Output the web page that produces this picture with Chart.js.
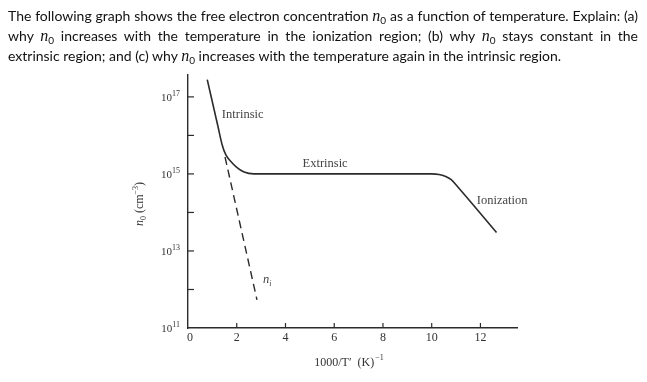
<!DOCTYPE html>
<html>
<head>
<meta charset="utf-8">
<script src="https://cdn.jsdelivr.net/npm/chart.js@4.4.1/dist/chart.umd.min.js"></script>
<style>
  html, body { margin: 0; padding: 0; background: #fff; }
  #wrap { position: relative; width: 647px; height: 382px; overflow: hidden; }
  #question {
    position: absolute; left: 8px; top: 6px; width: 630px;
    font-family: Lato, "Liberation Sans", sans-serif; font-size: 14px;
    line-height: 20px; color: #111;
  }
  #question .j { display: block; text-align: justify; text-align-last: justify; }
  #question .l { display: block; }
  #question i { font-family: "Liberation Serif", serif; font-size: 16px; }
  #question sub { font-size: 10px; vertical-align: -3px; line-height: 0; }
  #chart { position: absolute; left: 0; top: 0; }
</style>
</head>
<body>
<div id="wrap">
  <canvas id="chart" width="647" height="382"></canvas>
  <div id="question">
    <span class="j">The following graph shows the free electron concentration <i>n</i><sub>0</sub> as a function of temperature. Explain: (a)</span>
    <span class="j">why <i>n</i><sub>0</sub> increases with the temperature in the ionization region; (b) why <i>n</i><sub>0</sub> stays constant in the</span>
    <span class="l">extrinsic region; and (c) why <i>n</i><sub>0</sub> increases with the temperature again in the intrinsic region.</span>
  </div>
</div>
<script>
// 1000/T values and n0 (cm^-3)
const n0X = [0.79, 1.23, 1.40, 1.55, 1.75, 2.0, 2.3, 2.7, 5.0, 8.0, 10.0, 10.3, 10.55, 10.8, 11.1, 12.66];
const n0Y = [2.8e17, 1.7e16, 5.75e15, 3.16e15, 2.14e15, 1.48e15, 1.12e15, 1.0e15, 1.0e15, 1.0e15, 1.0e15, 9.66e14, 8.7e14, 7.1e14, 4.37e14, 3.0e13];

// intrinsic carrier concentration (dashed)
const niX = [1.52, 2.83];
const niY = [2.75e15, 5.4e11];

const xTicks = [0, 2, 4, 6, 8, 10, 12];
const yMajor = [11, 13, 15, 17];
const yMinor = [12, 14, 16];

const regionLabels = [
  { text: 'Intrinsic', x: 1.39, y: 2.8e16, italic: false },
  { text: 'Extrinsic', x: 4.7, y: 1.55e15, italic: false },
  { text: 'Ionization', x: 11.85, y: 1.7e14, italic: false },
  { text: 'n', sub: 'i', x: 3.08, y: 1.5e12, italic: true }
];

const ink = '#2b2b2b';
const serif = '"Liberation Serif", "DejaVu Serif", serif';

const axisDecor = {
  id: 'axisDecor',
  afterDraw(chart) {
    const ctx = chart.ctx;
    const xs = chart.scales.x;
    const ys = chart.scales.y;
    const area = chart.chartArea;
    ctx.save();
    ctx.strokeStyle = ink;
    ctx.lineWidth = 1.2;

    // inward ticks on x axis
    xTicks.forEach(v => {
      if (v === 0) return;
      const px = xs.getPixelForValue(v);
      ctx.beginPath();
      ctx.moveTo(px, area.bottom);
      ctx.lineTo(px, area.bottom - 5);
      ctx.stroke();
    });
    // inward ticks on y axis
    yMajor.concat(yMinor).forEach(p => {
      if (p === 11) return;
      const py = ys.getPixelForValue(Math.pow(10, p));
      ctx.beginPath();
      ctx.moveTo(area.left, py);
      ctx.lineTo(area.left + 6, py);
      ctx.stroke();
    });

    // x tick labels
    ctx.fillStyle = '#333';
    ctx.font = '12px ' + serif;
    ctx.textAlign = 'center';
    ctx.textBaseline = 'top';
    xTicks.forEach(v => {
      const px = xs.getPixelForValue(v);
      ctx.fillText(String(v), px + (v === 0 ? 2 : 0), area.bottom + 4);
    });

    // y tick labels: 10 with superscript exponent
    ctx.textBaseline = 'alphabetic';
    yMajor.forEach(p => {
      const py = ys.getPixelForValue(Math.pow(10, p));
      ctx.font = '8px ' + serif;
      const expW = ctx.measureText(String(p)).width;
      ctx.textAlign = 'right';
      ctx.fillText(String(p), area.left - 8, py - 1);
      ctx.font = '11px ' + serif;
      ctx.fillText('10', area.left - 8 - expW, py + 4);
    });

    // x axis title
    ctx.font = '12px ' + serif;
    ctx.textAlign = 'left';
    const xMain = '1000/T\u2032  (K)';
    const mainW = ctx.measureText(xMain).width;
    ctx.font = '8px ' + serif;
    const supW = ctx.measureText('\u22121').width;
    const xStart = 349 - (mainW + supW + 1) / 2;
    ctx.font = '12px ' + serif;
    ctx.fillText(xMain, xStart, area.bottom + 38);
    ctx.font = '8px ' + serif;
    ctx.fillText('\u22121', xStart + mainW + 1, area.bottom + 32);

    // y axis title (rotated)
    const parts = [
      { t: 'n', f: 'italic 12px ', dy: 0, gap: 0 },
      { t: '0', f: '8px ', dy: 3, gap: 3 },
      { t: '(cm', f: '12px ', dy: 0, gap: 0 },
      { t: '\u22123', f: '8px ', dy: -5, gap: 0 },
      { t: ')', f: '12px ', dy: 0, gap: 0 }
    ];
    let total = 0;
    parts.forEach(p => { ctx.font = p.f + serif; p.w = ctx.measureText(p.t).width; total += p.w + p.gap; });
    ctx.save();
    ctx.translate(area.left - 45, 204);
    ctx.rotate(-Math.PI / 2);
    let cx = -total / 2;
    parts.forEach(p => {
      ctx.font = p.f + serif;
      ctx.fillText(p.t, cx, p.dy);
      cx += p.w + p.gap;
    });
    ctx.restore();

    // region labels
    ctx.fillStyle = '#444';
    regionLabels.forEach(l => {
      const px = xs.getPixelForValue(l.x);
      const py = ys.getPixelForValue(l.y);
      ctx.textAlign = 'left';
      ctx.font = (l.italic ? 'italic ' : '') + '12.5px ' + serif;
      ctx.fillText(l.text, px, py);
      if (l.sub) {
        const w = ctx.measureText(l.text).width;
        ctx.font = 'italic 8px ' + serif;
        ctx.fillText(l.sub, px + w, py + 3);
      }
    });
    ctx.restore();
  }
};

function toPoints(xs, ys) {
  return xs.map((x, i) => ({ x: x, y: ys[i] }));
}

function createConcentrationChart() {
  const ctx = document.getElementById('chart').getContext('2d');

  const config = {
    type: 'line',
    data: {
      datasets: [
        {
          label: 'n0',
          data: toPoints(n0X, n0Y),
          borderColor: ink,
          borderWidth: 1.6,
          pointRadius: 0,
          cubicInterpolationMode: 'monotone',
          fill: false
        },
        {
          label: 'ni',
          data: toPoints(niX, niY),
          borderColor: ink,
          borderWidth: 1.4,
          borderDash: [8, 5],
          pointRadius: 0,
          fill: false
        }
      ]
    },
    options: {
      responsive: false,
      animation: false,
      layout: { padding: { left: 188, right: 130, top: 75, bottom: 54 } },
      plugins: {
        legend: { display: false },
        tooltip: { enabled: false }
      },
      scales: {
        x: {
          type: 'linear',
          min: 0,
          max: 13.5,
          ticks: { display: false },
          grid: { display: false, drawTicks: false },
          border: { display: true, color: ink, width: 1.4 }
        },
        y: {
          type: 'logarithmic',
          min: 1e11,
          max: 3.7e17,
          ticks: { display: false },
          grid: { display: false, drawTicks: false },
          border: { display: true, color: ink, width: 1.4 }
        }
      }
    },
    plugins: [axisDecor]
  };

  new Chart(ctx, config);
}

createConcentrationChart();
</script>
</body>
</html>
